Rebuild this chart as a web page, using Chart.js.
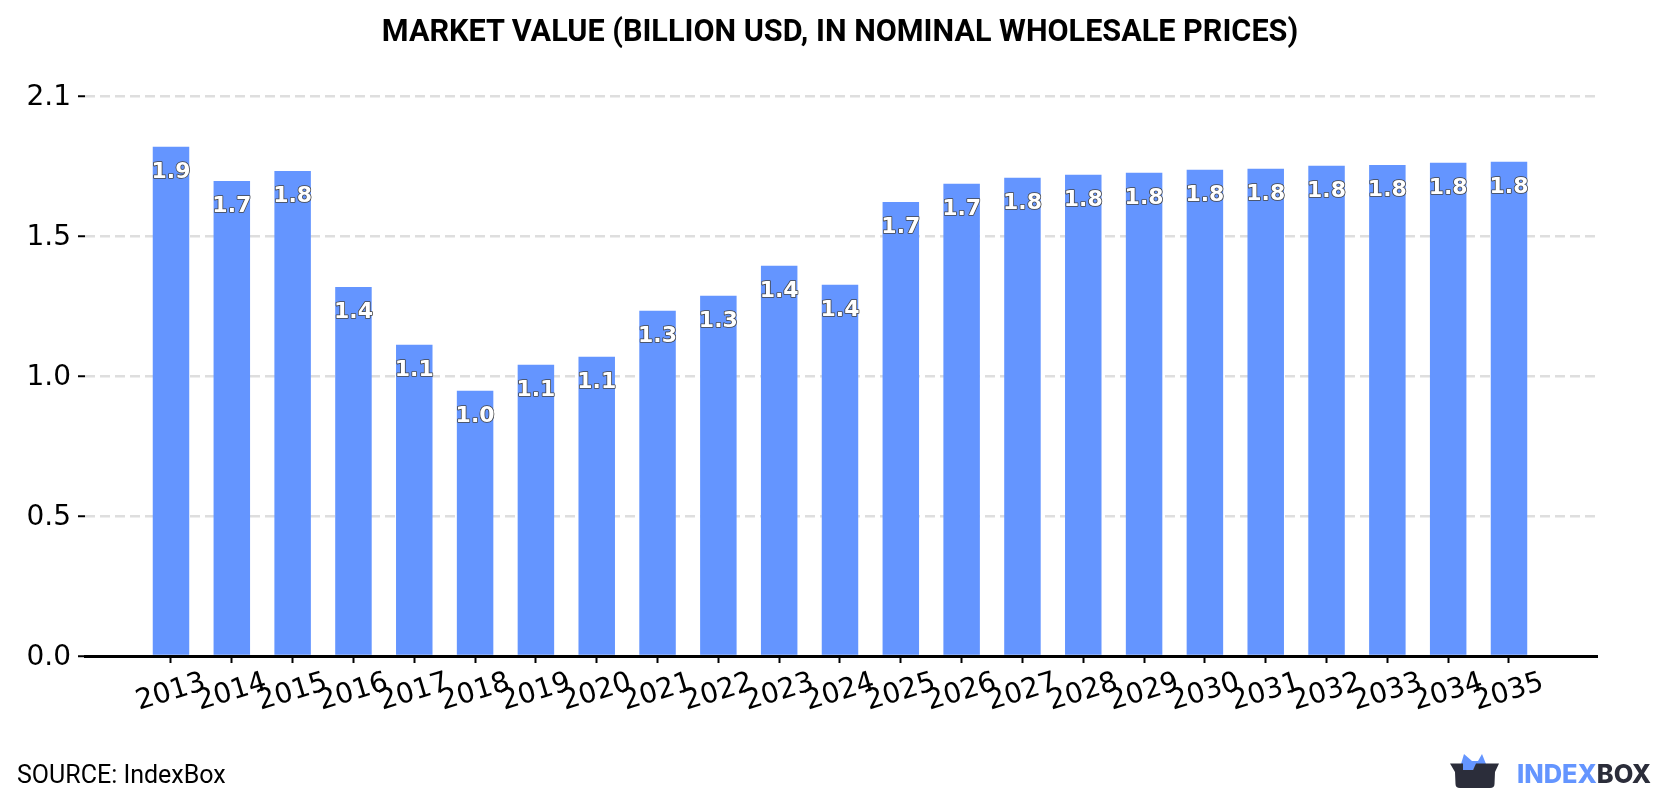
<!DOCTYPE html>
<html>
<head>
<meta charset="utf-8">
<title>Market value</title>
<script src="https://cdn.jsdelivr.net/npm/chart.js"></script>
<style>
    body { margin: 0; background: #fff; }
    #wrap { position: relative; width: 1680px; height: 800px; }
    #title { position: absolute; left: 0; width: 1680px; top: 13px; text-align: center; font: bold 30.6px/36px Roboto; color: #000; }
    #source { position: absolute; left: 17px; top: 760px; font: 25px Roboto; color: #000; }
    #logo { position: absolute; left: 1440px; top: 745px; }
</style>
</head>
<body>
<div id="wrap">
    <canvas id="marketValue" width="1680" height="800"></canvas>
    <div id="title">MARKET VALUE (BILLION USD, IN NOMINAL WHOLESALE PRICES)</div>
    <div id="source">SOURCE: IndexBox</div>
    <svg id="logo" width="240" height="55" viewBox="0 0 240 55">
        <path fill="#6495ff" d="M21 19 L24 9 L32 16 L38 16 L42 9 L46 19 L36 20 L33 25 L23 25 Z"/>
        <path fill="#2b2d3a" d="M10 18.5 L23 18.5 L23 25 L33 25 L36 18.5 L59 18.5 L55 27 L54.5 39 Q54.5 43 50 43 L20 43 Q15.500 43 15.500 39 L15 27 Z"/>
        <text x="77" y="37.500" font-family="Inter" font-weight="800" font-size="25.400" fill="#6495ff">INDEX<tspan fill="#2b2d3a">BOX</tspan></text>
    </svg>
</div>
<script>
const years = [2013, 2014, 2015, 2016, 2017, 2018, 2019, 2020, 2021, 2022, 2023, 2024,
    2025, 2026, 2027, 2028, 2029, 2030, 2031, 2032, 2033, 2034, 2035];
const marketValue = [1.875, 1.749, 1.786, 1.359, 1.146, 0.977, 1.072, 1.102, 1.271, 1.326, 1.437, 1.367,
    1.672, 1.739, 1.761, 1.772, 1.779, 1.790, 1.794, 1.805, 1.808, 1.816, 1.820];
const yTicks = [0, 0.515, 1.03, 1.545, 2.06];

// value labels sit inside the top of each bar, white with a dark outline
const barLabels = {
    id: "barLabels",
    afterDatasetsDraw: function (chart) {
        const ctx = chart.ctx;
        ctx.save();
        ctx.font = "bold 22px 'DejaVu Sans'";
        ctx.textAlign = "center";
        ctx.textBaseline = "middle";
        ctx.lineJoin = "round";
        chart.getDatasetMeta(0).data.forEach(function (bar, i) {
            const text = marketValue[i].toFixed(1);
            ctx.lineWidth = 1.6;
            ctx.strokeStyle = "#444";
            ctx.strokeText(text, bar.x, bar.y + 25.5);
            ctx.fillStyle = "#fff";
            ctx.fillText(text, bar.x, bar.y + 25.5);
        });
        ctx.restore();
    },
};

const ctx = document.getElementById("marketValue").getContext("2d");
new Chart(ctx, {
    type: "bar",
    data: {
        labels: years,
        datasets: [
            {
                data: marketValue,
                backgroundColor: "#6495ff",
                categoryPercentage: 1,
                barPercentage: 0.6,
            },
        ],
    },
    options: {
        responsive: false,
        animation: false,
        layout: { padding: { left: 0, right: 83, top: 96.5, bottom: 0 } },
        plugins: {
            legend: { display: false },
            tooltip: { enabled: false },
        },
        scales: {
            x: {
                type: "linear",
                offset: false,
                min: 2011.586,
                max: 2036.447,
                afterBuildTicks: function (scale) {
                    scale.ticks = years.map(function (y) {
                        return { value: y };
                    });
                },
                afterFit: function (scale) {
                    scale.height = 144;
                },
                border: { color: "#000", width: 3 },
                grid: {
                    offset: false,
                    drawOnChartArea: false,
                    tickLength: 7,
                    tickColor: "#000",
                    tickWidth: 2,
                },
                ticks: {
                    autoSkip: false,
                    minRotation: 17,
                    maxRotation: 17,
                    labelOffset: 34,
                    padding: 3,
                    color: "#000",
                    font: { family: "DejaVu Sans", size: 28 },
                    callback: function (value) {
                        return String(value);
                    },
                },
            },
            y: {
                min: 0,
                max: 2.06,
                afterBuildTicks: function (scale) {
                    scale.ticks = yTicks.map(function (v) {
                        return { value: v };
                    });
                },
                afterFit: function (scale) {
                    scale.width = 85;
                },
                border: { display: false, dash: [10, 5] },
                grid: {
                    color: "#dedede",
                    lineWidth: 2.5,
                    tickLength: 7,
                    tickColor: "#000",
                    tickWidth: 2,
                    tickBorderDash: [],
                },
                ticks: {
                    padding: 7,
                    labelOffset: 1.5,
                    color: "#000",
                    font: { family: "DejaVu Sans", size: 28 },
                    callback: function (value) {
                        return value.toFixed(1);
                    },
                },
            },
        },
    },
    plugins: [barLabels],
});
</script>
</body>
</html>
